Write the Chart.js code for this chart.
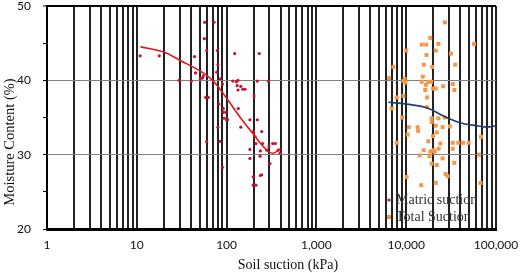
<!DOCTYPE html>
<html lang="en">
<head>
    <meta charset="UTF-8">
    <title>Soil suction vs moisture content</title>
    <script src="https://cdn.jsdelivr.net/npm/chart.js"></script>
    <style>
        html, body { margin: 0; padding: 0; background: #fff; overflow: hidden; }
        .chart-container { position: relative; width: 520px; height: 273px; }
    </style>
</head>
<body>
    <div class="chart-container">
        <canvas id="suctionChart" width="520" height="273"></canvas>
    </div>

    <script>
        // [suction kPa, moisture %]
        const matricSuction = [
            [10.9, 43.3], [17.8, 43.3], [29.5, 40.0], [40.5, 39.9], [44, 43.2], [45, 41.0],
            [51, 40.2], [55, 40.6], [54, 40.3], [57, 47.8], [56.5, 45.6], [60, 44.0],
            [58.5, 37.7], [62.5, 37.7], [60, 31.8], [72.4, 47.8], [78.8, 44.0], [80, 42.1],
            [77.6, 41.1], [85, 40.2], [82, 36.8], [80, 33.7], [85, 31.8], [90, 39.5],
            [92, 36.2], [90, 28.3], [92, 35.7], [98, 35.7], [94, 34.9], [100, 34.7],
            [103, 34.7], [117, 39.9], [123, 43.6], [128, 39.8], [134, 40.0], [131, 39.3],
            [144, 39.2], [151, 38.8], [160, 38.8], [134, 38.7], [135, 36.2], [144, 33.7],
            [182, 34.7], [182, 30.7], [182, 29.5], [198, 33.1], [198, 27.0], [198, 25.9],
            [202, 37.9], [207, 32.4], [212, 31.5], [212, 25.9], [220, 39.9], [220, 34.7],
            [231, 43.6], [236, 29.8], [238, 30.5], [238, 27.2], [246, 33.1], [246, 27.3],
            [252, 31.5], [280, 30.6], [292, 39.9], [296, 31.1], [304, 28.8], [326, 31.5],
            [349, 31.5], [375, 30.6], [395, 30.2]
        ];
        const totalSuction = [
            [6460, 40.3], [6900, 36.2], [7190, 41.8], [7840, 37.7], [7840, 31.6], [9020, 35.0],
            [9300, 37.9], [9300, 39.9], [9600, 40.2], [9800, 39.7], [10000, 44.0], [10100, 27.0],
            [10400, 32.7], [10700, 33.7], [13400, 33.7], [13600, 33.2], [14100, 29.9], [14700, 25.9],
            [14900, 44.8], [14900, 39.8], [15300, 40.5], [15700, 42.1], [15700, 30.6], [16300, 38.7],
            [16600, 39.4], [16700, 44.8], [16800, 43.4], [17100, 37.7], [17100, 36.4], [17600, 31.8],
            [17600, 39.8], [18200, 29.8], [18500, 30.4], [18550, 45.7], [18900, 39.8], [19200, 34.9],
            [19200, 34.4], [19200, 28.8], [19500, 41.8], [19500, 30.5], [19900, 38.9], [19900, 32.5],
            [20300, 30.6], [20800, 30.4], [21300, 44.0], [21300, 38.9], [21300, 33.9], [21900, 33.0],
            [21900, 28.6], [21300, 26.2], [22800, 44.9], [22800, 34.9], [23000, 30.8], [24000, 31.5],
            [25400, 29.5], [25500, 33.7], [25800, 39.2], [27000, 47.8], [27000, 35.0], [27500, 27.4],
            [28900, 27.1], [30600, 33.8], [31500, 43.6], [33000, 39.5], [33000, 31.6], [33000, 30.8],
            [34300, 28.9], [34400, 38.7], [35100, 42.1], [38000, 31.6], [43000, 31.6], [49700, 31.6],
            [57000, 44.9], [64700, 30.0], [67200, 26.2], [68100, 32.4]
        ];
        // trend lines
        const matricTrend = [
            [11, 44.5], [20, 43.8], [30, 42.7], [50, 41.3], [70, 40.0], [100, 37.6],
            [140, 35.1], [200, 32.7], [280, 30.6], [330, 30.2], [400, 30.8]
        ];
        const totalTrend = [
            [6330, 37.05], [10100, 36.8], [16900, 36.3], [27000, 35.1], [39800, 34.3],
            [61000, 33.9], [78800, 33.7], [100000, 33.9]
        ];
        const xDecades = [1, 10, 100, 1000, 10000];
        const xMantissas = [1, 2, 3, 4, 5, 6, 7, 8, 9];
        const seriesNames = ['Matric suction', 'Total Suction'];
        const xTitle = 'Soil suction (kPa)';
        const yTitle = 'Moisture Content (%)';

        const toXY = arr => arr.map(p => ({ x: p[0], y: p[1] }));

        const RED = '#c8102e';
        const ORANGE = '#f79646';
        const NAVY = '#1f3d6e';
        const SERIF = '"Liberation Serif", "Times New Roman", serif';

        // axis titles + in-plot legend, placed like the original
        const extrasPlugin = {
            id: 'extras',
            afterDraw(chart) {
                const ctx = chart.ctx;
                ctx.save();
                ctx.fillStyle = '#111';
                ctx.font = '14px ' + SERIF;
                ctx.textAlign = 'center';
                ctx.textBaseline = 'middle';
                ctx.fillText(xTitle, 288, 265);
                ctx.translate(10, 142);
                ctx.rotate(-Math.PI / 2);
                ctx.font = '14.5px ' + SERIF;
                ctx.fillText(yTitle, 0, 0);
                ctx.restore();

                ctx.save();
                ctx.font = '14px ' + SERIF;
                ctx.fillStyle = '#333';
                ctx.textAlign = 'left';
                ctx.textBaseline = 'middle';
                ctx.fillText(seriesNames[0], 396, 200);
                ctx.fillText(seriesNames[1], 396, 217);
                ctx.fillStyle = RED;
                ctx.beginPath();
                ctx.arc(389, 200, 1.6, 0, Math.PI * 2);
                ctx.fill();
                ctx.fillStyle = ORANGE;
                ctx.fillRect(387, 215, 4, 4);
                ctx.restore();
            }
        };

        // drop the label overhang padding so the plot area sits where the original has it
        const noPad = scale => {
            scale.paddingTop = 0;
            scale.paddingBottom = 0;
            scale.paddingLeft = 0;
            scale.paddingRight = 0;
        };

        new Chart(document.getElementById('suctionChart'), {
            type: 'scatter',
            data: {
                datasets: [
                    {
                        label: 'Matric trend',
                        data: toXY(matricTrend),
                        showLine: true,
                        borderColor: '#e8141e',
                        borderWidth: 1.6,
                        pointRadius: 0,
                        tension: 0.4
                    },
                    {
                        label: 'Total trend',
                        data: toXY(totalTrend),
                        showLine: true,
                        borderColor: NAVY,
                        borderWidth: 1.6,
                        pointRadius: 0,
                        tension: 0.4
                    },
                    {
                        label: seriesNames[0],
                        data: toXY(matricSuction),
                        backgroundColor: RED,
                        borderWidth: 0,
                        pointRadius: 1.6
                    },
                    {
                        label: seriesNames[1],
                        data: toXY(totalSuction),
                        backgroundColor: ORANGE,
                        borderWidth: 0,
                        pointStyle: 'rect',
                        pointRadius: 2.8
                    }
                ]
            },
            options: {
                responsive: false,
                animation: false,
                devicePixelRatio: 1,
                layout: { padding: { left: 0, right: 24, top: 6, bottom: 0 } },
                plugins: {
                    legend: { display: false },
                    tooltip: { enabled: false }
                },
                scales: {
                    x: {
                        type: 'logarithmic',
                        min: 1,
                        max: 100000,
                        afterBuildTicks: scale => {
                            const ticks = [];
                            xDecades.forEach(d => xMantissas.forEach(m => ticks.push({ value: d * m, major: m === 1 })));
                            ticks.push({ value: 100000, major: true });
                            scale.ticks = ticks;
                        },
                        afterFit: scale => { scale.height = 44; noPad(scale); },
                        ticks: {
                            autoSkip: false,
                            maxRotation: 0,
                            padding: 9,
                            color: '#111',
                            font: { family: 'Lato', size: 12 },
                            callback: v => {
                                const l = Math.log10(v);
                                return Math.abs(l - Math.round(l)) < 1e-9 ? v.toLocaleString('en-US') : '';
                            }
                        },
                        grid: {
                            color: '#222',
                            lineWidth: 2,
                            drawTicks: false
                        },
                        border: { color: '#000', width: 3 }
                    },
                    y: {
                        min: 20,
                        max: 50,
                        afterFit: scale => { scale.width = 47; noPad(scale); },
                        ticks: {
                            stepSize: 5,
                            padding: 12,
                            color: '#111',
                            font: { family: 'Lato', size: 12 },
                            callback: v => (v % 10 === 0 ? v : '')
                        },
                        grid: {
                            color: ctx => {
                                const v = ctx.tick.value;
                                if (v === 50 || v === 20) return '#000';
                                if (v === 30 || v === 40) return '#808080';
                                return 'rgba(0,0,0,0)';
                            },
                            lineWidth: ctx => (ctx.tick.value === 50 ? 2 : 1),
                            tickColor: '#000',
                            tickWidth: 1,
                            tickLength: 4
                        },
                        border: { color: '#000', width: 2 }
                    }
                }
            },
            plugins: [extrasPlugin]
        });
    </script>
</body>
</html>
